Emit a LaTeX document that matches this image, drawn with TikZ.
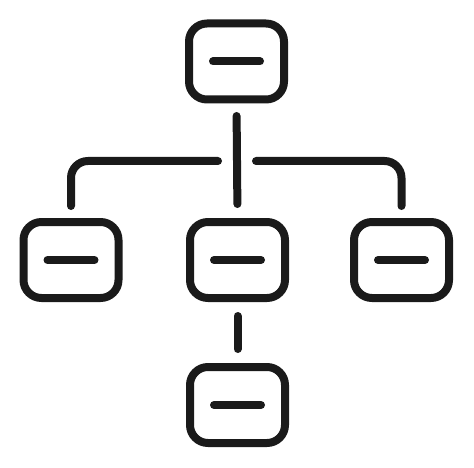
\documentclass[tikz,border=0pt]{standalone}
\definecolor{ink}{RGB}{26,26,26}
\begin{document}
\begin{tikzpicture}[x=1pt,y=-1pt,
  box/.style={draw=ink, line width=8pt, rounded corners=18pt, minimum width=95pt, minimum height=76pt, inner sep=0pt},
  dashline/.style={draw=ink, line width=8pt, line cap=round},
  conn/.style={draw=ink, line width=8pt, line cap=round}]
\useasboundingbox (0,0) rectangle (474,468);
\node[box] (t) at (236.5,61.5) {};
\node[box] (l) at (71,260) {};
\node[box] (c) at (237.5,260) {};
\node[box] (r) at (401.5,260) {};
\node[box] (b) at (237.5,405) {};
\foreach \n in {t,l,c,r,b}{
  \draw[dashline] ([xshift=-23.5pt]\n.center) -- ([xshift=23.5pt]\n.center);
}
\coordinate (hL) at (218,161);
\coordinate (hR) at (256,161);
\draw[conn, shorten <=12.5pt, shorten >=14pt] (t.south) -- (c.north);
\draw[conn, shorten <=14pt, shorten >=14pt] (c.south) -- (b.north);
\draw[conn, rounded corners=17pt, shorten >=12pt] (hL) -| (l.north);
\draw[conn, rounded corners=17pt, shorten >=12pt] (hR) -| (r.north);
\end{tikzpicture}
\end{document}
